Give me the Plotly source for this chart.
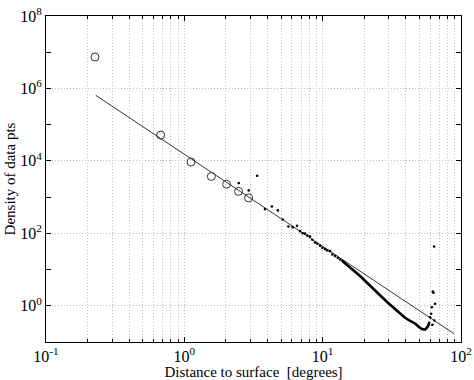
import plotly.graph_objects as go

# Open circles (binned density, first bins)
circ_x = [0.226, 0.675, 1.118, 1.568, 2.02, 2.466, 2.912]
circ_y = [7.36e6, 5.16e4, 9.27e3, 3.73e3, 2.27e3, 1.44e3, 951]

# Sparse dots
dot_x = [2.474, 2.92, 3.36, 3.83, 4.29, 4.74, 5.15, 5.65, 6.08, 6.53, 6.87, 7.18,
         7.46, 7.75, 8.11, 8.42, 8.81, 9.16, 9.58, 9.95, 10.41, 10.8, 11.3, 11.75,
         12.29, 12.85, 13.36, 13.88]
dot_y = [2440, 1530, 3900, 467, 553, 430, 242, 155, 148, 162, 115, 101,
         99, 87.5, 82, 66.5, 56, 51.6, 45.4, 40, 36.6, 33.7, 32.2, 26.1,
         23.5, 21.2, 19.0, 17.5]

# Dense part of the dot series (drawn as a thick trace)
dense_x = [13.81, 14.94, 16.67, 18.64, 20.84, 23.26, 26.0, 29.1, 32.4, 36.3,
           39.4, 42.9, 46.6, 49.2, 52.1, 55.0, 57.2, 58.8]
dense_y = [17.5, 13.6, 9.62, 6.61, 4.40, 2.91, 1.93, 1.29, 0.897, 0.601,
           0.466, 0.385, 0.325, 0.268, 0.229, 0.221, 0.260, 0.325]

# Scattered dots at the far end
tail_x = [63.9, 62.5, 63.2, 65.0, 61.5, 60.8, 59.8, 58.8, 64.2, 62.1, 58.1]
tail_y = [43.4, 2.48, 2.29, 1.14, 0.914, 0.601, 0.484, 0.339, 0.393, 0.299, 0.286]

# Power-law fit line endpoints
fit_x = [0.229, 89.1]
fit_y = [6.45e5, 0.169]

x_major = [0.1, 1, 10, 100]
x_major_text = ["10<sup>-1</sup>", "10<sup>0</sup>", "10<sup>1</sup>", "10<sup>2</sup>"]
x_minor = [m * d for d in (0.1, 1, 10) for m in range(2, 10)]
y_major = [1e0, 1e2, 1e4, 1e6, 1e8]
y_major_text = ["10<sup>0</sup>", "10<sup>2</sup>", "10<sup>4</sup>", "10<sup>6</sup>", "10<sup>8</sup>"]
y_minor = [1e-1, 1e1, 1e3, 1e5, 1e7]

FONT = "Liberation Serif, Times New Roman, serif"

fig = go.Figure()
fig.add_trace(go.Scatter(x=fit_x, y=fit_y, mode="lines",
                         line=dict(color="#333333", width=1), showlegend=False))
fig.add_trace(go.Scatter(x=dense_x, y=dense_y, mode="lines",
                         line=dict(color="black", width=2.6), showlegend=False))
fig.add_trace(go.Scatter(x=dot_x + tail_x, y=dot_y + tail_y, mode="markers",
                         marker=dict(color="black", size=2.6, symbol="circle"),
                         showlegend=False))
fig.add_trace(go.Scatter(x=circ_x, y=circ_y, mode="markers",
                         marker=dict(symbol="circle-open", size=8, color="#333333",
                                     line=dict(width=1)), showlegend=False))

grid = dict(showgrid=True, gridcolor="#bdbdbd", gridwidth=1, griddash="1px,2px")
fig.update_xaxes(type="log", range=[-1, 2], tickvals=x_major, ticktext=x_major_text,
                 ticks="inside", ticklen=5, tickcolor="black", automargin=False,
                 showline=True, linecolor="black", linewidth=1, mirror="allticks",
                 minor=dict(tickvals=x_minor, ticks="inside", ticklen=3,
                            tickcolor="black", **grid),
                 title=dict(text="Distance to surface  [degrees]", standoff=0,
                            font=dict(family=FONT, size=15, color="black")),
                 tickfont=dict(family=FONT, size=16, color="black"),
                 zeroline=False, **grid)
fig.update_yaxes(type="log", range=[-1, 8], tickvals=y_major, ticktext=y_major_text,
                 ticks="inside", ticklen=5, tickcolor="black", automargin=False,
                 showline=True, linecolor="black", linewidth=1, mirror="allticks",
                 minor=dict(tickvals=y_minor, ticks="inside", ticklen=5,
                            tickcolor="black", showgrid=False),
                 title=dict(text="Density of data pts", standoff=0,
                            font=dict(family=FONT, size=15, color="black")),
                 tickfont=dict(family=FONT, size=16, color="black"),
                 zeroline=False, **grid)
fig.update_layout(width=474, height=380, margin=dict(l=46, r=13, t=16, b=38),
                  paper_bgcolor="white", plot_bgcolor="white",
                  font=dict(family=FONT, color="black"))
fig.write_html("out.html", config={"displayModeBar": False},
               post_script="document.body.style.margin='0';document.body.style.padding='0';document.body.style.overflow='hidden';")
